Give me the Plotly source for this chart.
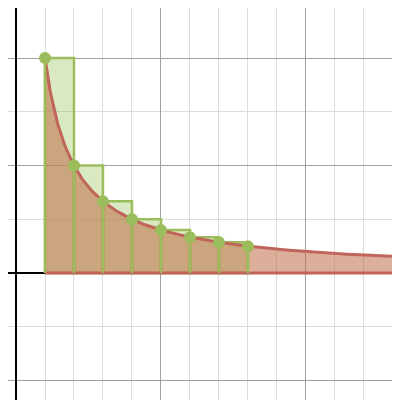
import numpy as np
import plotly.graph_objects as go

x_pts = [1, 2, 3, 4, 5, 6, 7, 8]
y_pts = [1.0, 0.5, 1/3, 0.25, 0.2, 1/6, 1/7, 0.125]
x_rect_left = [1, 2, 3, 4, 5, 6, 7]
x_curve = np.linspace(1, 13.6, 300)
y_curve = 1 / x_curve

green = "#9bbd5c"
red = "#c1655a"
fig = go.Figure()
for xl, h in zip(x_rect_left, y_pts):
    fig.add_trace(go.Scatter(x=[xl, xl, xl + 1, xl + 1, xl], y=[0, h, h, 0, 0],
                             mode="lines", fill="toself", fillcolor="rgba(160,200,100,0.4)",
                             line=dict(color=green, width=2.5), hoverinfo="skip"))
fig.add_trace(go.Scatter(x=list(x_curve) + [x_curve[-1], x_curve[0]],
                         y=list(y_curve) + [0, 0], mode="none", fill="toself",
                         fillcolor="rgba(190,110,70,0.55)"))
fig.add_trace(go.Scatter(x=x_curve, y=y_curve, mode="lines", line=dict(color=red, width=3)))
fig.add_trace(go.Scatter(x=[1, 13.6], y=[0, 0], mode="lines", line=dict(color=red, width=3)))
for xp, yp in zip(x_pts, y_pts):
    fig.add_trace(go.Scatter(x=[xp, xp], y=[0, yp], mode="lines", line=dict(color=green, width=2.5)))
fig.add_trace(go.Scatter(x=x_pts, y=y_pts, mode="markers", marker=dict(color=green, size=12)))

fig.update_layout(width=400, height=400, margin=dict(l=0, r=0, t=0, b=0, pad=0),
                  showlegend=False, plot_bgcolor="white", paper_bgcolor="white")
fig.update_xaxes(range=[-0.276, 13.52], dtick=5, tick0=0, gridcolor="#a0a0a0", gridwidth=1,
                 minor=dict(dtick=1, gridcolor="#dcdcdc", showgrid=True, ticks=""),
                 ticks="", showticklabels=False, automargin=False,
                 zeroline=True, zerolinecolor="black", zerolinewidth=1.5)
fig.update_yaxes(range=[-0.628, 1.233], dtick=0.5, tick0=0, gridcolor="#a0a0a0", gridwidth=1,
                 minor=dict(dtick=0.25, gridcolor="#dcdcdc", showgrid=True, ticks=""),
                 ticks="", showticklabels=False, automargin=False,
                 zeroline=True, zerolinecolor="black", zerolinewidth=1.5)
fig.write_html("out.html")
